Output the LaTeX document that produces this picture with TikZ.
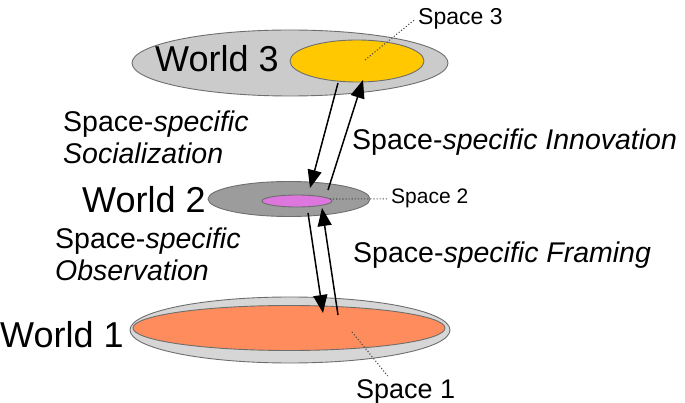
\documentclass[tikz,border=0pt]{standalone}
\usepackage{fontspec}
\setmainfont{Liberation Sans}
\usetikzlibrary{shapes.geometric,arrows.meta,positioning}
\definecolor{cEdge}{HTML}{6E6E6E}
\definecolor{cWorldC}{HTML}{CBCBCB}
\definecolor{cWorldB}{HTML}{9C9C9C}
\definecolor{cWorldA}{HTML}{D6D6D6}
\definecolor{cSpaceC}{HTML}{FFC800}
\definecolor{cSpaceB}{HTML}{DD77DD}
\definecolor{cSpaceA}{HTML}{FF8C5C}
\tikzset{
  world/.style  = {ellipse, draw=cEdge, fill=#1, line width=0.9pt, inner sep=0pt, outer sep=0pt},
  wname/.style  = {anchor=base west, inner sep=0pt, font=\fontsize{36}{40}\selectfont},
  sname/.style  = {anchor=base west, inner sep=3pt, font=\fontsize{#1}{#1}\selectfont},
  proc/.style   = {anchor=base west, inner sep=0pt, align=left,
                   font=\fontsize{28.5}{32}\selectfont},
  flow/.style   = {-{Triangle[length=18pt,width=14pt]}, line width=1.5pt, black},
  lead/.style   = {dotted, line width=1.1pt, black!70},
}

\begin{document}
\begin{tikzpicture}[x=1pt,y=-1pt]
  \useasboundingbox (0,0) rectangle (685,403);
  % worlds and spaces
  \node[world=cWorldC, minimum width=316pt, minimum height=66pt] (w3) at (290,63) {};
  \node[world=cSpaceC, minimum width=134pt, minimum height=42pt] (s3) at (357,61) {};
  \node[world=cWorldB, minimum width=162pt, minimum height=35pt] (w2) at (289,199) {};
  \node[world=cSpaceB, minimum width=70pt, minimum height=12pt] (s2) at (297,201) {};
  \node[world=cWorldA, minimum width=320pt, minimum height=66pt] (w1) at (290,330) {};
  \node[world=cSpaceA, minimum width=312pt, minimum height=45pt] (s1) at (289,328) {};

  \node[wname] (w3lbl) at (155,72) {World 3};
  \node[wname] (w2lbl) at (82,213) {World 2};
  \node[wname] (w1lbl) at (0,347) {World 1};

  \node[sname=23] (s3lbl) at (415,25) {Space 3};
  \node[sname=21] (s2lbl) at (388,204) {Space 2};
  \node[sname=27] (s1lbl) at (353,398) {Space 1};

  \coordinate (s3in) at (365,60);
  \coordinate (s2in) at (330,199);
  \coordinate (s1in) at (352,332);
  \draw[lead] (s3in) -- (s3lbl.west);
  \draw[lead] (s2in) -- (s2lbl.west);
  \draw[lead] (s1in) -- ([xshift=-18pt]s1lbl.north);

  % processes (base = last line)
  \node[proc] (soc) at (63,164) {Space-\textit{specific}\\\textit{Socialization}};
  \node[proc] (obs) at (55,280) {Space-\textit{specific}\\\textit{Observation}};
  \node[proc] (inn) at (352,150) {Space-\textit{specific Innovation}};
  \node[proc] (fra) at (353,262) {Space-\textit{specific Framing}};

  \coordinate (a1s) at (338,83);  \coordinate (a1e) at (310,188);
  \coordinate (a2s) at (328,190); \coordinate (a2e) at (363,80);
  \coordinate (a3s) at (308,213); \coordinate (a3e) at (323,313);
  \coordinate (a4s) at (338,315); \coordinate (a4e) at (322,208);
  \draw[flow] (a1s) -- (a1e);
  \draw[flow] (a2s) -- (a2e);
  \draw[flow] (a3s) -- (a3e);
  \draw[flow] (a4s) -- (a4e);
\end{tikzpicture}
\end{document}
